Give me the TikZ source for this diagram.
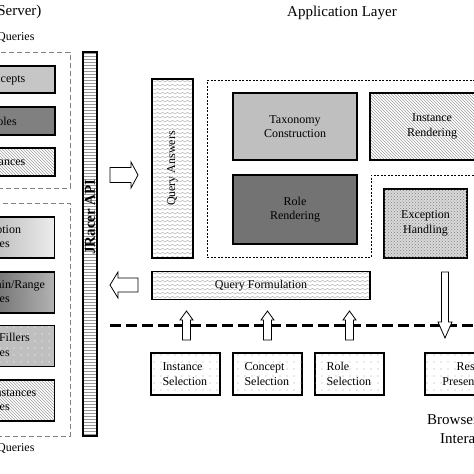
\documentclass[tikz,border=0pt]{standalone}
\usepackage{fontspec}
\setmainfont{Liberation Serif}
\usetikzlibrary{patterns}

\pgfdeclarepatternformonly{zigzag}{\pgfqpoint{-0.5pt}{-0.5pt}}{\pgfqpoint{5.5pt}{4.5pt}}{\pgfqpoint{5pt}{4pt}}{%
  \pgfsetlinewidth{0.4pt}%
  \pgfpathmoveto{\pgfqpoint{0pt}{0pt}}%
  \pgfpathlineto{\pgfqpoint{2.5pt}{1.6pt}}%
  \pgfpathlineto{\pgfqpoint{5pt}{0pt}}%
  \pgfusepath{stroke}}
\pgfdeclarepatternformonly{sparsedots}{\pgfqpoint{-1pt}{-1pt}}{\pgfqpoint{1pt}{1pt}}{\pgfqpoint{7pt}{7pt}}{%
  \pgfpathcircle{\pgfqpoint{0pt}{0pt}}{0.55pt}%
  \pgfusepath{fill}}

\tikzset{
  box/.style={draw, line width=1.3pt, inner sep=2pt, align=center, font=\fontsize{12}{14.5}\selectfont},
  qbox/.style={box, align=left, text width=80pt, minimum height=41pt, anchor=east},
  selbox/.style={box, fill=white, postaction={pattern=sparsedots, pattern color=gray!70}, minimum height=42pt},
  hatched/.style={pattern=north west lines, pattern color=gray!75},
  wavy/.style={pattern=zigzag, pattern color=gray!65},
  group/.style={draw=gray, line width=1pt, dash pattern=on 5pt off 3pt},
  region/.style={line width=0.6pt, dash pattern=on 2pt off 1.5pt},
  heading/.style={font=\fontsize{15}{19}\selectfont},
  side/.style={font=\fontsize{12}{14.5}\selectfont},
  hollow/.style={draw, fill=white, line width=0.8pt},
  sep/.style={line width=3pt, dash pattern=on 11pt off 5pt}
}

\begin{document}
\begin{tikzpicture}[x=1pt,y=-1pt]
\useasboundingbox (0,0) rectangle (474,474);
\fill[white] (0,0) rectangle (474,474);
\clip (0,0) rectangle (474,474);

%server side
\node[heading, anchor=east] (server) at (45,12) {Server)};
\node[side, anchor=east] (topq) at (38,37) {Queries};
\node[side, anchor=east] (botq) at (38,448) {Queries};
\draw[group] (-10,52) rectangle (70,188);
\draw[group] (-10,203) rectangle (70,436);
\node[box, fill=gray!45, minimum width=104pt, minimum height=27pt] (concepts) at (3,79.5) {Concepts};
\node[box, fill=gray, minimum width=104pt, minimum height=28pt] (roles) at (3,121) {Roles};
\node[box, hatched, minimum width=104pt, minimum height=28pt] (instances) at (3,162) {Instances};
\node[qbox, left color=gray!65, right color=gray!15] (excq) at (55,237.5) {Exception\\Queries};
\node[qbox, left color=black!65, right color=gray!60] (domq) at (55,292.5) {Domain/Range\\Queries};
\node[qbox, fill=gray!50, postaction={pattern=sparsedots, pattern color=white}] (fillq) at (55,346) {Role Fillers\\Queries};
\node[qbox, hatched] (allq) at (55,400.5) {All Instances\\Queries};

%api
\node[draw, line width=1.5pt, pattern=horizontal lines, pattern color=gray!80, minimum width=14pt, minimum height=384pt] (api) at (90,244) {};
\node[rotate=90, font=\fontsize{15}{18}\selectfont\bfseries] (apilabel) at (90,217) {JRacer API};
\coordinate (ansin) at (138,175);
\coordinate (formout) at (110,285);
\draw[hollow] (ansin) -- ++(-7,-13) -- ++(0,5.5) -- ++(-21,0) -- ++(0,15) -- ++(21,0) -- ++(0,5.5) -- cycle;
\draw[hollow] (formout) -- ++(8,-13) -- ++(0,6) -- ++(20,0) -- ++(0,14) -- ++(-20,0) -- ++(0,6) -- cycle;

%application layer
\node[heading] (applayer) at (342,13) {Application Layer};
\draw[region] (207,80) -- (480,80) -- (480,175) -- (371,175) -- (371,257) -- (207,257) -- cycle;
\node[box, wavy, rotate=90, minimum width=179pt, minimum height=41pt] (answers) at (172.5,168.5) {Query Answers};
\node[box, fill=gray!50, minimum width=124pt, minimum height=67pt] (taxonomy) at (295,126.5) {Taxonomy\\Construction};
\node[box, hatched, minimum width=124pt, minimum height=67pt] (instrender) at (432,126.5) {Instance\\Rendering};
\node[box, fill=black!55, minimum width=124pt, minimum height=69pt] (rolerender) at (295,209.5) {Role\\Rendering};
\node[box, fill=gray!30, postaction={pattern=crosshatch dots, pattern color=gray}, minimum width=83pt, minimum height=69pt] (exchandle) at (425.5,223.5) {Exception\\Handling};
\node[box, wavy, minimum width=218pt, minimum height=28pt] (formulation) at (261,285.5) {Query Formulation};

%browser
\draw[sep] (110,325) -- (480,325);
\coordinate (up1) at (186.5,311);
\coordinate (up2) at (267.5,311);
\coordinate (up3) at (349.5,311);
\coordinate (down) at (445,338);
\draw[hollow] (up1) -- ++(6.5,9) -- ++(-2.5,0) -- ++(0,20) -- ++(-8,0) -- ++(0,-20) -- ++(-2.5,0) -- cycle;
\draw[hollow] (up2) -- ++(6.5,9) -- ++(-2.5,0) -- ++(0,20) -- ++(-8,0) -- ++(0,-20) -- ++(-2.5,0) -- cycle;
\draw[hollow] (up3) -- ++(6.5,9) -- ++(-2.5,0) -- ++(0,20) -- ++(-8,0) -- ++(0,-20) -- ++(-2.5,0) -- cycle;
\draw[hollow] (down) -- ++(7,-16) -- ++(-3.5,0) -- ++(0,-50) -- ++(-7,0) -- ++(0,50) -- ++(-3.5,0) -- cycle;
\node[selbox, align=left, text width=46pt, inner xsep=11.5pt] (isel) at (185.5,374) {Instance\\Selection};
\node[selbox, align=left, text width=46pt, inner xsep=11.5pt] (csel) at (267.5,374) {Concept\\Selection};
\node[selbox, align=left, text width=46pt, inner xsep=11.5pt] (rsel) at (349.5,374) {Role\\Selection};
\node[selbox, minimum width=94pt] (result) at (472,374) {Result\\Presentation};
\node[heading, anchor=north west, align=left, inner sep=0pt] (browser) at (427,414) {Browser\\\hspace*{13pt}Interaction};
\end{tikzpicture}
\end{document}
